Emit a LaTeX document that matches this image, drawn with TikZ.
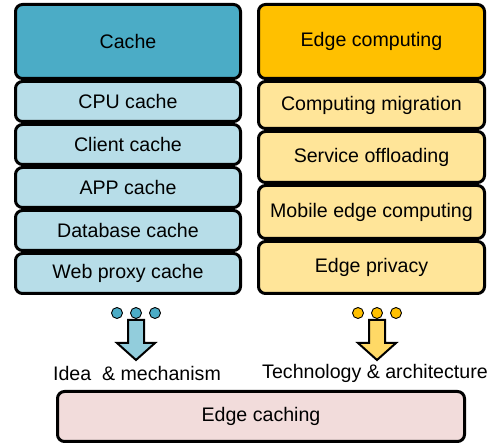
\documentclass[tikz,border=0pt]{standalone}
\usepackage{fontspec}
\setmainfont{Liberation Sans}
\definecolor{cacheDark}{HTML}{4BACC6}
\definecolor{cacheLight}{HTML}{B7DDE8}
\definecolor{edgeDark}{HTML}{FFC000}
\definecolor{edgeLight}{HTML}{FFE599}
\definecolor{arrowBlue}{HTML}{92CDDC}
\definecolor{arrowYellow}{HTML}{FFD966}
\definecolor{pinkFill}{HTML}{F2DCDB}
\tikzset{
  box/.style={draw=black, line width=3pt, rounded corners=7pt, inner sep=0pt,
    font=\fontsize{19.6}{23}\selectfont, text=black},
  leftbox/.style={box, minimum width=225pt},
  rightbox/.style={box, minimum width=226pt},
  dot/.style={circle, draw=black, line width=0.9pt, minimum size=11pt, inner sep=0pt},
  blockarrow/.style={draw=black, line width=2pt, line join=miter},
  lbl/.style={inner sep=0pt, font=\fontsize{19.6}{23}\selectfont, text=black}
}
\begin{document}
\begin{tikzpicture}[x=1pt,y=-1pt]
\useasboundingbox (0,0) rectangle (491,446);
% left column
\node[leftbox, fill=cacheDark, minimum height=74pt] (cache) at (128,41.5) {Cache};
\node[leftbox, fill=cacheLight, minimum height=40pt] (cpu) at (128,101.5) {CPU cache};
\node[leftbox, fill=cacheLight, minimum height=40pt] (client) at (128,144.5) {Client cache};
\node[leftbox, fill=cacheLight, minimum height=40pt] (app) at (128,187.5) {APP cache};
\node[leftbox, fill=cacheLight, minimum height=40pt] (db) at (128,230.5) {Database cache};
\node[leftbox, fill=cacheLight, minimum height=40pt] (web) at (128,273.5) {Web proxy cache};
% right column
\node[rightbox, fill=edgeDark, minimum height=74pt] (edge) at (371.5,41.5) {Edge computing};
\node[rightbox, fill=edgeLight, minimum height=47pt] (mig) at (371.5,105) {Computing migration};
\node[rightbox, fill=edgeLight, minimum height=51pt] (off) at (371.5,157) {Service offloading};
\node[rightbox, fill=edgeLight, minimum height=53pt] (mec) at (371.5,212) {Mobile edge computing};
\node[rightbox, fill=edgeLight, minimum height=52pt] (priv) at (371.5,267.5) {Edge privacy};
% dots
\node[dot, fill=cacheDark] (ld1) at (117,313) {};
\node[dot, fill=cacheDark] (ld2) at (136,313) {};
\node[dot, fill=cacheDark] (ld3) at (155,313) {};
\node[dot, fill=edgeDark] (rd1) at (358,313) {};
\node[dot, fill=edgeDark] (rd2) at (377,313) {};
\node[dot, fill=edgeDark] (rd3) at (396,313) {};
% block arrows
\coordinate (la) at (136,320);
\coordinate (ra) at (377,320);
\draw[blockarrow, fill=arrowBlue] ([xshift=-8pt]la) -- ([xshift=8pt]la) -- ([xshift=8pt,yshift=-23pt]la) -- ([xshift=19pt,yshift=-23pt]la) -- ([yshift=-40pt]la) -- ([xshift=-19pt,yshift=-23pt]la) -- ([xshift=-8pt,yshift=-23pt]la) -- cycle;
\draw[blockarrow, fill=arrowYellow] ([xshift=-8pt]ra) -- ([xshift=8pt]ra) -- ([xshift=8pt,yshift=-23pt]ra) -- ([xshift=19pt,yshift=-23pt]ra) -- ([yshift=-40pt]ra) -- ([xshift=-19pt,yshift=-23pt]ra) -- ([xshift=-8pt,yshift=-23pt]ra) -- cycle;
% labels
\node[lbl] (idea) at (137,373) {Idea\ \ \& mechanism};
\node[lbl] (tech) at (375,373) {Technology \& architecture};
% bottom box
\node[box, fill=pinkFill, minimum width=407pt, minimum height=50pt] (ec) at (261,416.5) {Edge caching};
\end{tikzpicture}
\end{document}
